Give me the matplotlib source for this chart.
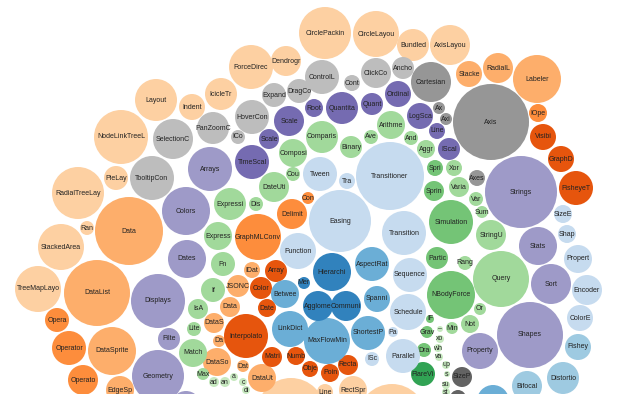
import matplotlib.pyplot as plt
from matplotlib.patches import Circle

# bubbles: (label, x, y, radius) in pixels, grouped by colour
layout_light = [
    ("CirclePackin", 325, 33, 26), ("CircleLayou", 376, 34, 23), ("Bundled", 413, 45, 16),
    ("AxisLayou", 450, 45, 20), ("ForceDirec", 251, 67, 22), ("Dendrogr", 286, 61, 15),
    ("Layout", 156, 100, 21), ("Indent", 192, 107, 13), ("IcicleTr", 221, 94, 16),
    ("NodeLinkTreeL", 121, 137, 27), ("PieLay", 116, 178, 12), ("RadialTreeLay", 78, 193, 26),
    ("Ran", 87, 228, 7), ("StackedArea", 61, 247, 23), ("TreeMapLayo", 38, 289, 23),
    ("RectSpr", 353, 390, 14), ("Line", 325, 392, 8), ("", 291, 412, 34), ("", 392, 418, 34),
]
data_orange = [
    ("Stacke", 469, 74, 13), ("RadialL", 498, 68, 15), ("Labeler", 537, 79, 24),
    ("Data", 129, 231, 34), ("DataList", 97, 293, 33), ("DataSprite", 112, 351, 24),
    ("EdgeSp", 120, 390, 14), ("IDat", 252, 270, 8), ("JSONC", 238, 286, 11),
    ("Data", 230, 307, 10), ("DataS", 214, 323, 10), ("Da", 219, 341, 6),
    ("DataSo", 217, 362, 14), ("Dat", 243, 366, 6), ("DataUt", 262, 378, 14),
]
operator_orange = [
    ("IOpe", 538, 113, 9), ("Con", 308, 198, 6), ("Delimit", 292, 214, 15),
    ("GraphMLConv", 258, 237, 23), ("Opera", 57, 320, 12), ("Operator", 69, 348, 17),
    ("Operato", 83, 380, 15),
]
interp_orange = [
    ("Visibi", 543, 137, 13), ("GraphD", 561, 159, 13), ("FisheyeT", 576, 188, 17),
    ("Array", 276, 271, 11), ("Color", 261, 288, 11), ("Date", 267, 308, 9),
    ("Interpolato", 246, 336, 22), ("Matri", 272, 357, 10), ("Numb", 296, 356, 9),
    ("Recta", 348, 365, 10), ("Obje", 310, 369, 8), ("Poin", 330, 373, 9),
]
controls_grey = [
    ("ControlL", 322, 77, 17), ("ClickCo", 376, 73, 15), ("Cont", 352, 83, 8),
    ("Ancho", 403, 68, 11), ("Expand", 274, 95, 12), ("DragCo", 299, 91, 12),
    ("SelectionC", 173, 139, 20), ("PanZoomC", 213, 128, 16), ("HoverCon", 252, 117, 17),
    ("ICo", 238, 137, 7), ("TooltipCon", 152, 178, 22),
]
axis_grey = [
    ("Cartesian", 431, 82, 20), ("Ax", 439, 108, 6), ("Axi", 446, 119, 6),
    ("Axis", 491, 122, 38), ("Axes", 477, 178, 8),
]
dark_grey = [("SizeP", 462, 377, 10), ("", 458, 398, 8)]
scale_purple = [
    ("Root", 314, 108, 9), ("Quantita", 342, 108, 16), ("Quant", 372, 104, 11),
    ("Ordinal", 398, 94, 13), ("LogSca", 420, 116, 13), ("Scale", 289, 121, 15),
    ("Scale", 269, 139, 10), ("Line", 437, 131, 8), ("IScal", 449, 149, 11),
    ("TimeScal", 252, 162, 17),
]
util_purple = [
    ("Arrays", 210, 169, 22), ("Strings", 521, 192, 36), ("Colors", 186, 211, 24),
    ("Stats", 538, 246, 19), ("Dates", 187, 259, 19), ("Sort", 551, 284, 20),
    ("Displays", 158, 301, 27), ("Shapes", 530, 335, 33), ("Filte", 169, 339, 11),
    ("Property", 480, 351, 18), ("Geometry", 158, 376, 26), ("", 186, 406, 15),
]
query_green = [
    ("Arithme", 391, 125, 14), ("Comparis", 322, 137, 16), ("Ave", 371, 137, 7),
    ("And", 411, 138, 7), ("Binary", 351, 147, 11), ("Aggr", 426, 149, 9),
    ("Composi", 293, 153, 14), ("Cou", 293, 174, 7), ("Xor", 454, 168, 8),
    ("DateUti", 274, 187, 15), ("Varia", 459, 187, 10), ("Var", 476, 199, 7),
    ("Expressi", 230, 204, 16), ("Dis", 256, 204, 7), ("Sum", 482, 212, 6),
    ("StringU", 491, 235, 15), ("Express", 218, 236, 14), ("Fn", 223, 264, 12),
    ("Rang", 465, 263, 7), ("Query", 501, 279, 28), ("If", 213, 290, 12),
    ("IsA", 198, 309, 10), ("Or", 480, 309, 6), ("Not", 470, 324, 9),
    ("Lite", 194, 329, 7), ("Min", 452, 328, 6), ("Match", 193, 353, 14),
    ("Max", 203, 374, 6),
]
physics_green = [
    ("Spri", 435, 168, 8), ("Sprin", 434, 191, 10), ("Simulation", 451, 222, 22),
    ("Partic", 437, 258, 11), ("NBodyForce", 451, 295, 24), ("IF", 430, 319, 4),
    ("Grav", 427, 332, 6), ("Dra", 424, 350, 7),
]
dark_green = [("FlareVi", 423, 374, 12)]
method_green = [
    ("–", 440, 329, 3), ("xo", 440, 339, 4), ("wh", 438, 348, 4), ("va", 439, 357, 4),
    ("up", 446, 365, 4), ("s", 447, 374, 3), ("su", 446, 385, 4), ("st", 446, 392, 4),
    ("a", 234, 377, 4), ("ad", 214, 382, 5), ("an", 225, 382, 5), ("c", 243, 382, 4),
    ("di", 246, 390, 4),
]
anim_blue = [
    ("Tween", 320, 174, 17), ("Tra", 347, 181, 8), ("Transitioner", 390, 176, 34),
    ("Easing", 340, 221, 31), ("Transition", 404, 233, 22), ("Function", 298, 251, 18),
    ("Sequence", 410, 275, 17), ("Schedule", 408, 312, 18), ("Pa", 393, 332, 5),
    ("Parallel", 403, 356, 17), ("ISc", 372, 359, 7), ("SizeE", 563, 214, 9),
    ("Shap", 567, 234, 9), ("Propert", 578, 259, 14), ("Encoder", 587, 290, 15),
    ("ColorE", 580, 318, 13),
]
distort_blue = [("Fishey", 578, 347, 13), ("Distortio", 563, 378, 16), ("Bifocal", 527, 386, 15)]
analytics_blue = [
    ("AspectRat", 372, 264, 17), ("Betwee", 285, 294, 14), ("Spanni", 377, 299, 13),
    ("LinkDict", 290, 329, 18), ("ShortestP", 368, 333, 17), ("MaxFlowMin", 327, 341, 23),
    ("", 493, 401, 16),
]
cluster_blue = [
    ("Hierarchi", 332, 272, 19), ("Mer", 304, 283, 6), ("Agglome", 318, 306, 15),
    ("Communi", 346, 306, 15),
]

groups = [
    (layout_light, "#fdd0a2"), (data_orange, "#fdae6b"), (operator_orange, "#fd8d3c"),
    (interp_orange, "#e6550d"), (controls_grey, "#bdbdbd"), (axis_grey, "#969696"),
    (dark_grey, "#636363"), (scale_purple, "#756bb1"), (util_purple, "#9e9ac8"),
    (query_green, "#a1d99b"), (physics_green, "#74c476"), (dark_green, "#31a354"),
    (method_green, "#c7e9c0"), (anim_blue, "#c6dbef"), (distort_blue, "#9ecae1"),
    (analytics_blue, "#6baed6"), (cluster_blue, "#3182bd"),
]

fig = plt.figure(figsize=(6.18, 3.94), dpi=100)
ax = fig.add_axes([0, 0, 1, 1])
ax.set_xlim(0, 618)
ax.set_ylim(394, 0)
ax.set_aspect("equal")
ax.axis("off")

for bubbles, color in groups:
    for name, x, y, r in bubbles:
        ax.add_patch(Circle((x, y), r, facecolor=color, edgecolor="none"))
        if name:
            ax.text(x, y, name, ha="center", va="center", fontsize=5.0,
                    family="Liberation Sans", color="#222222")

fig.savefig("out.png", dpi=100)
